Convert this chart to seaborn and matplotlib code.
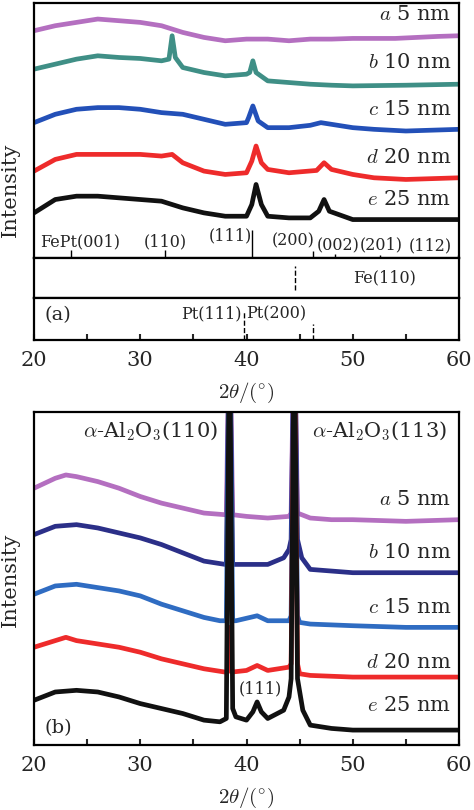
import numpy as np
import pandas as pd
import matplotlib
matplotlib.use("Agg")
import matplotlib.pyplot as plt
import seaborn as sns

# ---------------------------------------------------------------------------
# Data (arbitrary intensity units, offsets included)
# ---------------------------------------------------------------------------
labels = ["$a$ 5 nm", "$b$ 10 nm", "$c$ 15 nm", "$d$ 20 nm", "$e$ 25 nm"]

# panel (a)
a_x = {
    "a": [20, 22, 24, 26, 28, 30, 32, 34, 36, 38, 40, 42, 44, 46, 48, 50, 52, 54, 56, 58, 60],
    "b": [20, 22, 24, 26, 28, 30, 32, 32.7, 33, 33.3, 34, 36, 38, 40, 40.3, 40.6, 40.9, 42, 44, 46, 48, 50, 55, 60],
    "c": [20, 22, 24, 26, 28, 30, 32, 34, 36, 38, 40, 40.2, 40.6, 41.1, 42, 44, 46, 47, 48, 50, 52, 55, 60],
    "d": [20, 22, 24, 26, 28, 30, 32, 33, 34, 36, 38, 40, 40.5, 40.9, 41.4, 42, 44, 46.6, 47.3, 48, 50, 52, 55, 60],
    "e": [20, 22, 24, 26, 28, 30, 32, 34, 36, 38, 40, 40.5, 40.9, 41.4, 42, 44, 46, 46.8, 47.3, 47.8, 50, 52, 55, 60],
}
a_y = {
    "a": [680, 695, 705, 715, 710, 705, 695, 675, 660, 650, 655, 655, 650, 655, 655, 657, 657, 657, 660, 663, 665],
    "b": [565, 580, 595, 605, 600, 597, 590, 595, 665, 600, 570, 555, 545, 550, 555, 590, 555, 530, 525, 520, 517, 515, 517, 520],
    "c": [405, 430, 445, 450, 450, 445, 435, 430, 415, 400, 405, 420, 455, 410, 390, 390, 397, 405, 400, 390, 385, 380, 385],
    "d": [260, 295, 310, 310, 310, 310, 305, 310, 285, 260, 250, 255, 290, 335, 285, 265, 255, 262, 285, 265, 250, 240, 235, 240],
    "e": [135, 175, 185, 185, 180, 175, 170, 150, 135, 125, 125, 160, 220, 160, 125, 120, 120, 140, 175, 140, 115, 115, 115, 115],
}
a_colors = ["#b46fc0", "#3f8f86", "#2350b8", "#ee2b2b", "#111111"]
a_label_y = [730, 585, 445, 300, 175]

# FePt reference lines (position, height)
fept_pos = [23.5, 32.3, 40.5, 46.3, 48.3, 52.6, 59.9]
fept_h = [25, 25, 85, 22, 12, 8, 8]
fept_lbl = ["FePt(001)", "(110)", "(111)", "(200)", "(002)", "(201)", "(112)"]
fept_lbl_x = [24.3, 32.4, 38.5, 44.4, 48.6, 52.7, 57.3]
fept_lbl_y = [48, 48, 66, 50, 36, 38, 36]

fe_pos, pt_pos = [44.6], [39.8, 46.3]

# panel (b); 1300 = peak running off the top
b_x = {
    "a": [20, 22, 23, 24, 26, 28, 30, 32, 34, 36, 38, 38.1, 38.4, 38.7, 40, 42, 44, 44.2, 44.5, 44.8, 46, 48, 50, 55, 60],
    "b": [20, 22, 24, 26, 28, 30, 32, 34, 36, 38, 38.1, 38.4, 38.7, 40, 42, 43.5, 44, 44.2, 44.5, 44.8, 45.2, 46, 48, 50, 55, 60],
    "c": [20, 22, 24, 26, 28, 30, 32, 34, 36, 37.5, 38.1, 38.4, 38.7, 39, 41, 42, 44, 44.2, 44.5, 44.8, 45, 46, 50, 55, 60],
    "d": [20, 22, 23, 24, 26, 28, 30, 32, 34, 36, 38, 38.2, 38.4, 38.6, 40, 41, 42, 44, 44.2, 44.5, 44.8, 45, 46, 50, 60],
    "e": [20, 22, 24, 26, 28, 30, 32, 34, 36, 37.5, 38.1, 38.4, 38.7, 39, 40, 40.6, 41, 41.4, 42, 43.5, 44, 44.2, 44.5, 44.8, 45.3, 46, 48, 50, 60],
}
b_y = {
    "a": [775, 805, 815, 810, 795, 775, 750, 730, 715, 700, 695, 695, 1300, 695, 690, 685, 690, 700, 1300, 700, 685, 680, 680, 675, 680],
    "b": [635, 660, 665, 655, 640, 625, 605, 580, 555, 545, 545, 1300, 545, 545, 545, 565, 590, 620, 1300, 620, 565, 530, 525, 520, 520, 520],
    "c": [455, 480, 485, 475, 465, 450, 425, 405, 385, 375, 375, 1300, 375, 375, 390, 375, 375, 390, 1300, 390, 370, 365, 360, 355, 355],
    "d": [295, 315, 325, 315, 305, 295, 280, 260, 245, 230, 220, 220, 355, 220, 225, 240, 225, 235, 245, 1300, 245, 215, 210, 205, 205],
    "e": [135, 160, 165, 160, 145, 125, 110, 95, 75, 70, 80, 1300, 110, 85, 75, 100, 130, 100, 80, 105, 145, 200, 1300, 200, 105, 60, 50, 45, 45],
}
b_colors = ["#b46fc0", "#2b2f88", "#2f6cc2", "#ee2b2b", "#111111"]
b_label_y = [740, 580, 415, 250, 120]

xticks = [20, 30, 40, 50, 60]

# ---------------------------------------------------------------------------
sns.set_theme(style="white")
plt.rcParams["font.family"] = ["DejaVu Serif"]
plt.rcParams["mathtext.fontset"] = "cm"


def style_ax(ax, show_x=False):
    ax.set_xlim(20, 60)
    ax.set_yticks([])
    for s in ax.spines.values():
        s.set_linewidth(1.6)
        s.set_color("black")
    ax.set_xticks(xticks)
    ax.set_xticks(np.arange(25, 60, 10), minor=True)
    ax.tick_params(axis="x", which="both", direction="in", top=False,
                   length=4, width=1.5, labelsize=15, bottom=show_x,
                   labelbottom=show_x, pad=8)
    ax.set_xlabel("")
    ax.set_ylabel("")


def draw_curves(ax, xs, ys, colors):
    for key, c in zip(["a", "b", "c", "d", "e"], colors):
        df = pd.DataFrame({"x": xs[key], "y": ys[key]})
        sns.lineplot(data=df, x="x", y="y", ax=ax, color=c, lw=3.4,
                     estimator=None, sort=False)


fig = plt.figure(figsize=(4.74, 8.1), dpi=100)
L, W = 34 / 474, 425 / 474


def fy(px):
    return 1 - px / 810


ax1 = fig.add_axes([L, fy(258), W, fy(3) - fy(258)])
ax2 = fig.add_axes([L, fy(298), W, fy(258) - fy(298)])
ax3 = fig.add_axes([L, fy(340), W, fy(298) - fy(340)])
axb = fig.add_axes([L, fy(745), W, fy(412) - fy(745)])

# panel (a) main
draw_curves(ax1, a_x, a_y, a_colors)
ax1.set_ylim(0, 763)
for lab, yy in zip(labels, a_label_y):
    ax1.text(59.3, yy, lab, ha="right", va="center", fontsize=15)
ax1.vlines(fept_pos, 0, fept_h, color="black", lw=1.0)
for t, xx, yy in zip(fept_lbl, fept_lbl_x, fept_lbl_y):
    ax1.text(xx, yy, t, ha="center", va="center", fontsize=11.5)
style_ax(ax1)

# Fe
ax2.set_ylim(0, 1)
ax2.vlines(fe_pos, 0.2, 0.8, color="black", lw=1.0, linestyles="--")
ax2.text(53, 0.5, "Fe(110)", ha="center", va="center", fontsize=11.5)
style_ax(ax2)

# Pt
ax3.set_ylim(0, 1)
ax3.vlines(pt_pos[0], 0, 0.7, color="black", lw=1.0, linestyles="--")
ax3.vlines(pt_pos[1], 0, 0.38, color="black", lw=1.0, linestyles="--")
ax3.text(39.5, 0.62, "Pt(111)", ha="right", va="center", fontsize=11.5)
ax3.text(40.0, 0.62, "Pt(200)", ha="left", va="center", fontsize=11.5)
ax3.text(21, 0.6, "(a)", ha="left", va="center", fontsize=14)
style_ax(ax3, show_x=True)
ax3.set_xlabel(r"$2\theta/(^{\circ})$", fontsize=15, labelpad=8)
fig.text(0.022, fy(190), "Intensity", rotation=90, ha="center", va="center",
         fontsize=15)

# panel (b)
draw_curves(axb, b_x, b_y, b_colors)
axb.set_ylim(0, 1005)
for lab, yy in zip(labels, b_label_y):
    axb.text(59.3, yy, lab, ha="right", va="center", fontsize=15)
axb.text(31, 945, r"$\alpha$-Al$_2$O$_3$(110)", ha="center", va="center", fontsize=15)
axb.text(52.5, 945, r"$\alpha$-Al$_2$O$_3$(113)", ha="center", va="center", fontsize=15)
axb.text(41.3, 170, "(111)", ha="center", va="center", fontsize=11.5)
axb.text(21, 50, "(b)", ha="left", va="center", fontsize=14)
style_ax(axb, show_x=True)
axb.set_xlabel(r"$2\theta/(^{\circ})$", fontsize=15, labelpad=8)
fig.text(0.022, fy(580), "Intensity", rotation=90, ha="center", va="center",
         fontsize=15)

fig.savefig("out.png", dpi=100)
